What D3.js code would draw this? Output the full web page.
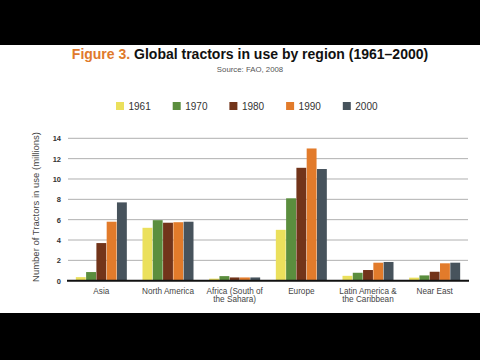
<!DOCTYPE html>
<html><head><meta charset="utf-8">
<script src="https://cdn.jsdelivr.net/npm/d3@7"></script>
<style>
html,body{margin:0;padding:0;background:#000;}
svg{display:block;}
text{font-family:"Liberation Sans",Arial,Helvetica,sans-serif;}
</style></head>
<body>
<svg id="chart" width="480" height="360"></svg>
<script>
const categories = ["Asia", "North America", "Africa (South of the Sahara)", "Europe", "Latin America & the Caribbean", "Near East"];
const years = ["1961", "1970", "1980", "1990", "2000"];
const values1961 = [0.35, 5.2, 0.2, 5.0, 0.48, 0.3];
const values1970 = [0.85, 5.95, 0.45, 8.1, 0.78, 0.52];
const values1980 = [3.7, 5.7, 0.32, 11.1, 1.05, 0.88];
const values1990 = [5.8, 5.75, 0.32, 13.0, 1.77, 1.71];
const values2000 = [7.7, 5.8, 0.32, 10.98, 1.84, 1.77];
const yTicks = [0, 2, 4, 6, 8, 10, 12, 14];
const colors = ["#ebe05c", "#5b8e3e", "#72341a", "#e27b2b", "#47535c"];

const seriesValues = [values1961, values1970, values1980, values1990, values2000];

const svg = d3.select("#chart");
// white page area between letterbox bands
svg.append("rect").attr("x", 0).attr("y", 45).attr("width", 480).attr("height", 268).attr("fill", "#fff");

// Title
const title = svg.append("text").attr("x", 250).attr("y", 59).attr("text-anchor", "middle")
  .attr("font-size", 14).attr("font-weight", "bold");
title.append("tspan").attr("fill", "#e07a2c").text("Figure 3. ");
title.append("tspan").attr("fill", "#111").text("Global tractors in use by region (1961\u20132000)");

svg.append("text").attr("x", 250).attr("y", 72).attr("text-anchor", "middle")
  .attr("font-size", 7.8).attr("fill", "#555").text("Source: FAO, 2008");

// Legend
const legend = svg.append("g");
years.forEach((yr, i) => {
  const g = legend.append("g").attr("transform", `translate(${116 + i * 56.7},102)`);
  g.append("rect").attr("width", 8).attr("height", 8).attr("fill", colors[i]);
  g.append("text").attr("x", 12.5).attr("y", 8).attr("font-size", 10).attr("fill", "#333").text(yr);
});

// Scales
const x0 = d3.scaleBand().domain(categories).range([68, 468]).paddingInner(0.235).paddingOuter(0.1175);
const x1 = d3.scaleBand().domain(years).range([0, x0.bandwidth()]).paddingInner(0.04);
const y = d3.scaleLinear().domain([0, 14]).range([280.7, 138.3]);

// Gridlines
svg.append("g").selectAll("line").data(yTicks.filter(t => t > 0)).join("line")
  .attr("x1", 68).attr("x2", 468).attr("y1", d => y(d)).attr("y2", d => y(d))
  .attr("stroke", "#b0b0b0").attr("stroke-width", 1);

// Y axis tick labels
const yAxis = d3.axisLeft(y).tickValues(yTicks).tickSize(0).tickPadding(0);
const ya = svg.append("g").attr("transform", "translate(61,0)").call(yAxis);
ya.select(".domain").remove();
ya.selectAll("text").attr("font-size", 7.5).attr("font-weight", "bold").attr("fill", "#333")
  .attr("font-family", "'Liberation Sans',Arial,sans-serif");

// Y label
svg.append("text").attr("transform", "translate(39,207) rotate(-90)").attr("text-anchor", "middle")
  .attr("font-size", 9.5).attr("fill", "#444").text("Number of Tractors in use (millions)");

// Bars
const groups = svg.append("g").selectAll("g").data(categories).join("g")
  .attr("transform", d => `translate(${x0(d)},0)`);
groups.selectAll("rect").data((c, ci) => years.map((yr, si) => ({ yr, si, v: seriesValues[si][ci] })))
  .join("rect")
  .attr("x", d => x1(d.yr)).attr("width", x1.bandwidth())
  .attr("y", d => y(d.v)).attr("height", d => y(0) - y(d.v))
  .attr("fill", d => colors[d.si]);

// Baseline
svg.append("line").attr("x1", 67).attr("x2", 469).attr("y1", y(0)).attr("y2", y(0))
  .attr("stroke", "#111").attr("stroke-width", 2);

// X axis labels (wrapped)
const xAxis = d3.axisBottom(x0).tickSize(0).tickPadding(0);
const xa = svg.append("g").attr("transform", "translate(0,288)").call(xAxis);
xa.select(".domain").remove();
xa.selectAll("text").attr("font-size", 8.2).attr("fill", "#444")
  .attr("font-family", "'Liberation Sans',Arial,sans-serif")
  .each(function () {
    const t = d3.select(this);
    const words = t.text().split(/\s+/);
    t.text(null);
    let line = [], lineNo = 0;
    let tspan = t.append("tspan").attr("x", 0).attr("dy", "0.71em");
    words.forEach(w => {
      line.push(w);
      tspan.text(line.join(" "));
      if (tspan.node().getComputedTextLength() > 62 && line.length > 1) {
        line.pop();
        tspan.text(line.join(" "));
        line = [w];
        lineNo++;
        tspan = t.append("tspan").attr("x", 0).attr("dy", "1.0em").text(w);
      }
    });
  });
</script>
</body></html>
